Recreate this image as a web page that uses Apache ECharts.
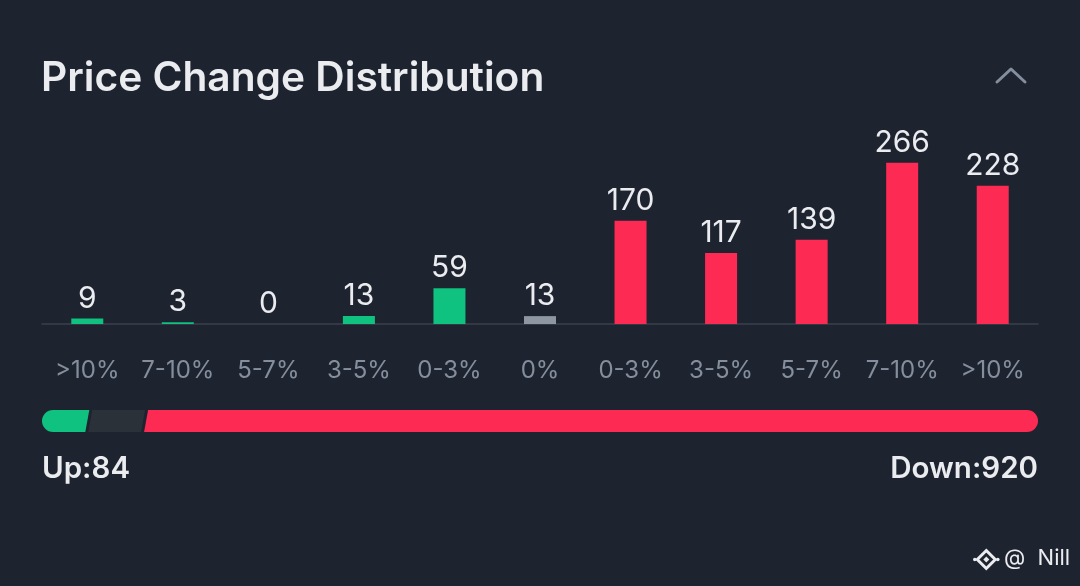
<!DOCTYPE html>
<html>
<head>
<meta charset="utf-8">
<script src="https://cdn.jsdelivr.net/npm/echarts@6/dist/echarts.min.js"></script>
<style>
html,body{margin:0;padding:0;background:#1e2330;}
#chart{width:1080px;height:586px;}
</style>
</head>
<body>
<div id="chart"></div>
<script>
const titleText = 'Price Change Distribution';
const categories = ['>10%', '7-10%', '5-7%', '3-5%', '0-3%', '0%', '0-3%', '3-5%', '5-7%', '7-10%', '>10%'];
const counts = [9, 3, 0, 13, 59, 13, 170, 117, 139, 266, 228];
const upCount = 84;
const downCount = 920;
// visual shares of the summary bar (up / flat / down), in %
const barShares = [4.7, 5.6, 89.7];

const FONT = 'Inter, "Noto Sans", sans-serif';
const GREEN = '#0fc27f', RED = '#fd2b54', GRAY = '#8d96a1', FLAT = '#2b3139';

const chart = echarts.init(document.getElementById('chart'));

const segs = [];
let acc = 0;
barShares.forEach((s, i) => { segs.push([acc, acc + s, i]); acc += s; });

chart.setOption({
  backgroundColor: '#1e2330',
  animation: false,
  title: {
    text: titleText, left: 41, top: 58, padding: 0,
    textStyle: { color: '#eaecef', fontSize: 40.7, fontWeight: 600, fontFamily: FONT }
  },
  grid: [
    { left: 42, right: 42, top: 142, bottom: 262 },
    { left: 42, right: 42, top: 410, height: 22 }
  ],
  xAxis: [
    {
      type: 'category', data: categories, gridIndex: 0,
      axisLine: { lineStyle: { color: '#3a404b', width: 1.5 } },
      axisTick: { show: false },
      axisLabel: { color: '#848e9c', fontSize: 24, margin: 35, fontFamily: FONT, interval: 0 }
    },
    { type: 'value', gridIndex: 1, min: 0, max: 100, show: false }
  ],
  yAxis: [
    { type: 'value', gridIndex: 0, min: 0, max: 300, show: false },
    { type: 'category', gridIndex: 1, data: ['all'], show: false }
  ],
  series: [
    {
      type: 'bar', xAxisIndex: 0, yAxisIndex: 0, data: counts, barWidth: 32,
      itemStyle: { color: p => p.dataIndex < 5 ? GREEN : (p.dataIndex === 5 ? GRAY : RED) },
      label: {
        show: true, position: 'top', distance: 5, color: '#eaecef',
        fontSize: 30, fontFamily: FONT, lineHeight: 30
      }
    },
    {
      type: 'custom', xAxisIndex: 1, yAxisIndex: 1, data: segs,
      renderItem: function (params, api) {
        const a = api.coord([api.value(0), 0]);
        const b = api.coord([api.value(1), 0]);
        const idx = api.value(2);
        const h = 22, r = 11, s = 2, g = 1.5;
        const yt = a[1] - h / 2, yb = a[1] + h / 2;
        const x0 = a[0], x1 = b[0];
        if (idx === 0) {
          return { type: 'path', shape: { pathData:
            `M${x0 + r},${yt} L${x1 + s - g},${yt} L${x1 - s - g},${yb} L${x0 + r},${yb} A${r},${r} 0 0 1 ${x0 + r},${yt} Z` },
            style: { fill: GREEN } };
        } else if (idx === 1) {
          return { type: 'polygon', shape: { points: [
            [x0 + s + g, yt], [x1 + s - g, yt], [x1 - s - g, yb], [x0 - s + g, yb]] },
            style: { fill: FLAT } };
        } else {
          return { type: 'path', shape: { pathData:
            `M${x0 + s + g},${yt} L${x1 - r},${yt} A${r},${r} 0 0 1 ${x1 - r},${yb} L${x0 - s + g},${yb} Z` },
            style: { fill: RED } };
        }
      }
    }
  ],
  graphic: [
    { type: 'polyline', shape: { points: [[997, 82], [1011, 69], [1025, 82]] },
      style: { stroke: '#848e9c', lineWidth: 3, fill: null, lineCap: 'round', lineJoin: 'round' } },
    { type: 'text', left: 42, top: 454,
      style: { text: 'Up:' + upCount, fill: '#eaecef', font: '600 29.5px ' + FONT } },
    { type: 'text', right: 42, top: 454,
      style: { text: 'Down:' + downCount, fill: '#eaecef', font: '600 29.5px ' + FONT, textAlign: 'right' } },
    { type: 'group', left: 973, top: 548, children: [
      { type: 'polygon', shape: { points: [[13, 2], [22, 11], [13, 20], [4, 11]] },
        style: { stroke: '#eaecef', lineWidth: 3, fill: null } },
      { type: 'polygon', shape: { points: [[13, 8], [16, 11], [13, 14], [10, 11]] }, style: { fill: '#eaecef' } },
      { type: 'circle', shape: { cx: 1.5, cy: 11, r: 1.8 }, style: { fill: '#eaecef' } },
      { type: 'circle', shape: { cx: 24.5, cy: 11, r: 1.8 }, style: { fill: '#eaecef' } }
    ]},
    { type: 'text', left: 1004, top: 547,
      style: { text: '@  Nill', fill: '#eaecef', font: '22px ' + FONT } }
  ]
});
</script>
</body>
</html>
